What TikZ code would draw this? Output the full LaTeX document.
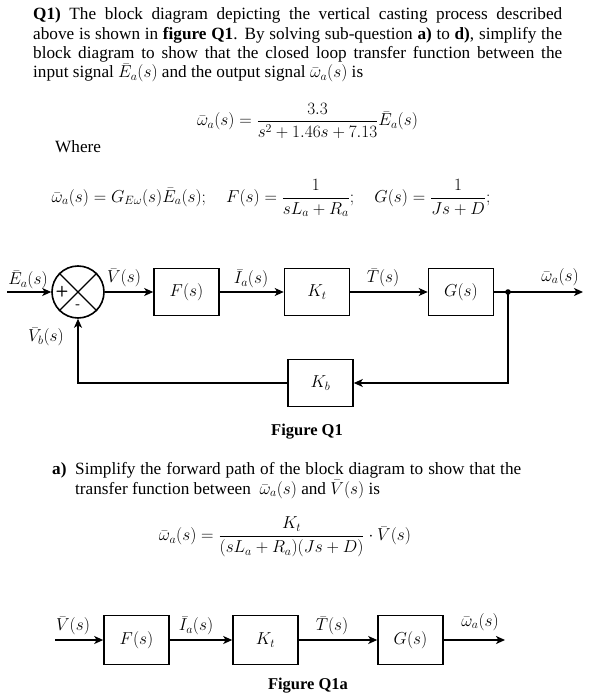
\documentclass[tikz,border=0pt]{standalone}
\usepackage{fontspec}
\setmainfont{Liberation Serif}
\usetikzlibrary{arrows.meta}
\tikzset{
  arr/.style={-{Stealth[length=9pt,width=8pt,inset=2.5pt]}},
  wire/.style={line width=1.6pt},
  blockbox/.style={draw,line width=1.6pt,minimum width=65pt,minimum height=47pt,inner sep=0pt,font=\fontsize{17}{20}\selectfont},
  lbl/.style={inner sep=0pt,font=\fontsize{17}{20}\selectfont},
  txt/.style={inner sep=0pt,font=\fontsize{17.2}{19}\selectfont},
  eqn/.style={inner sep=0pt,font=\fontsize{17.3}{20}\selectfont},
}
\begin{document}
\begin{tikzpicture}[x=1pt,y=-1pt]
\fill[white] (0,0) rectangle (588,700);
\useasboundingbox (0,0) rectangle (588,700);
% ---------- question text ----------
\node[txt,anchor=base west] (l1) at (33,20) {\makebox[529pt][s]{\textbf{Q1)} The block diagram depicting the vertical casting process described}};
\node[txt,anchor=base west] (l2) at (33,39.3) {\makebox[529pt][s]{above is shown in \textbf{figure Q1}. By solving sub-question \textbf{a)} to \textbf{d)}, simplify the}};
\node[txt,anchor=base west] (l3) at (33,58.6) {\makebox[529pt][s]{block diagram to show that the closed loop transfer function between the}};
\node[txt,anchor=base west] (l4) at (33,78) {input signal $\bar E_a(s)$ and the output signal $\bar\omega_a(s)$ is};
\node[eqn] (eq1) at (307.5,121) {$\displaystyle \bar\omega_a(s)=\frac{3.3}{s^2+1.46s+7.13}\bar E_a(s)$};
\node[txt,anchor=base west] (where) at (55,153) {Where};
\node[eqn] (eq2) at (271,198) {$\displaystyle \bar\omega_a(s)=G_{E\omega}(s)\bar E_a(s);\quad F(s)=\frac{1}{sL_a+R_a};\quad G(s)=\frac{1}{Js+D};$};
% ---------- Figure Q1 ----------
\node[draw,circle,line width=1.6pt,minimum size=52pt,inner sep=0pt] (sum) at (78,292) {};
\draw[line width=1.3pt] (sum.north west) -- (sum.south east);
\draw[line width=1.3pt] (sum.north east) -- (sum.south west);
\node[inner sep=0pt,font=\bfseries\sffamily\fontsize{15}{15}\selectfont] (plus) at (62,292) {+};
\node[inner sep=0pt,font=\bfseries\sffamily\fontsize{14}{14}\selectfont] (minus) at (78,307) {-};
\node[blockbox] (F) at (186.5,292) {$F(s)$};
\node[blockbox] (Kt) at (317,292) {$K_t$};
\node[blockbox] (G) at (461,292) {$G(s)$};
\node[blockbox] (Kb) at (320.5,383) {$K_b$};
\coordinate (in) at (7,292);
\coordinate (br) at (508,292);
\coordinate (out) at (583,292);
\draw[wire,arr] (in) -- (sum.west);
\draw[wire,arr] (sum.east) -- (F.west);
\draw[wire,arr] (F.east) -- (Kt.west);
\draw[wire,arr] (Kt.east) -- (G.west);
\draw[wire] (G.east) -- (br);
\draw[wire,arr] (br) -- (out);
\fill (br) circle (2.8pt);
\draw[wire,arr] (br) |- (Kb.east);
\draw[wire,arr] (Kb.west) -| (sum.south);
\node[lbl] (lE) at (28,280) {$\bar E_a(s)$};
\node[lbl] (lV) at (124,278) {$\bar V(s)$};
\node[lbl] (lVb) at (46,337) {$\bar V_b(s)$};
\node[lbl] (lI) at (251,279) {$\bar I_a(s)$};
\node[lbl] (lT) at (383,278) {$\bar T(s)$};
\node[lbl] (lw) at (560,277) {$\bar\omega_a(s)$};
\node[txt,font=\bfseries\fontsize{16.5}{19}\selectfont] (cap1) at (307,432) {Figure Q1};
% ---------- part a ----------
\node[txt,anchor=base west] (a1) at (52,474) {\textbf{a)}};
\node[txt,anchor=base west] (a2) at (75,474) {\makebox[446pt][s]{Simplify the forward path of the block diagram to show that the}};
\node[txt,anchor=base west] (a3) at (75,494) {transfer function between \ $\bar\omega_a(s)$ and $\bar V(s)$ is};
\node[eqn] (eq3) at (285,537) {$\displaystyle \bar\omega_a(s)=\frac{K_t}{(sL_a+R_a)(Js+D)}\cdot\bar V(s)$};
% ---------- Figure Q1a ----------
\node[blockbox,minimum height=49pt] (F2) at (136.5,640) {$F(s)$};
\node[blockbox,minimum height=49pt] (Kt2) at (265.5,640) {$K_t$};
\node[blockbox,minimum height=49pt] (G2) at (410.5,640) {$G(s)$};
\coordinate (in2) at (55,640);
\coordinate (out2) at (505,640);
\draw[wire,arr] (in2) -- (F2.west);
\draw[wire,arr] (F2.east) -- (Kt2.west);
\draw[wire,arr] (Kt2.east) -- (G2.west);
\draw[wire,arr] (G2.east) -- (out2);
\node[lbl] (lV2) at (73,626) {$\bar V(s)$};
\node[lbl] (lI2) at (196,626) {$\bar I_a(s)$};
\node[lbl] (lT2) at (332,626) {$\bar T(s)$};
\node[lbl] (lw2) at (480,622) {$\bar\omega_a(s)$};
\node[txt,font=\bfseries\fontsize{16.5}{19}\selectfont] (cap2) at (308,686) {Figure Q1a};
\end{tikzpicture}
\end{document}
